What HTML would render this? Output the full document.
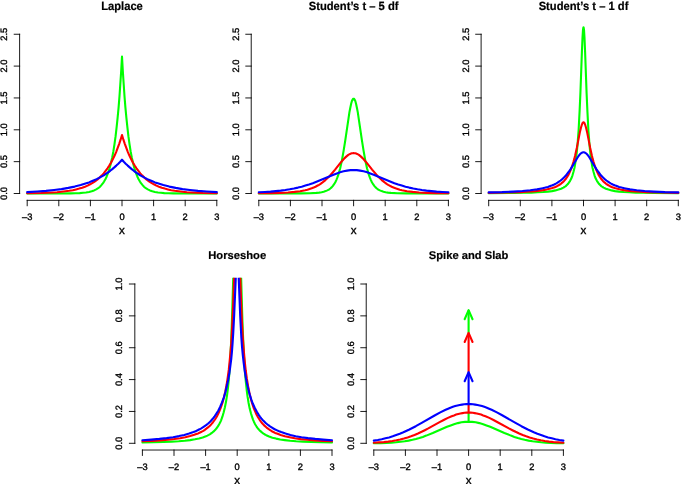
<!DOCTYPE html>
<html><head><meta charset="utf-8"><title>Shrinkage priors</title>
<style>html,body{margin:0;padding:0;background:#fff;}svg{display:block;}text{text-rendering:geometricPrecision;}</style>
</head><body>
<svg width="682" height="484" viewBox="0 0 682 484">
<rect width="682" height="484" fill="#fff"/>
<clipPath id="c1"><rect x="19.62" y="19.93" width="204.77" height="180.25"/></clipPath>
<g clip-path="url(#c1)" fill="none" stroke-width="2.1" stroke-linejoin="round" stroke-linecap="round">
<path d="M27.2,193.5 57.6,193.5 70.7,193.4 75.6,193.3 79.7,193.1 83.1,192.8 86.0,192.5 89.1,192.0 91.7,191.3 94.1,190.4 96.2,189.4 98.2,188.2 100.0,186.7 101.6,184.9 103.2,182.9 104.1,181.5 104.9,180.1 105.8,178.4 106.6,176.7 108.2,172.7 109.6,168.2 110.9,163.2 112.2,157.5 113.4,151.2 114.5,144.1 115.6,136.2 116.6,127.4 117.6,117.8 118.6,107.4 119.5,96.2 120.3,84.2 121.2,70.8 122.0,56.6 122.8,70.8 123.7,84.2 124.5,96.2 125.4,107.4 126.4,117.8 127.4,127.4 128.4,136.2 129.5,144.1 130.6,151.2 131.8,157.5 133.1,163.2 134.4,168.2 135.8,172.7 137.4,176.7 138.2,178.4 139.1,180.1 139.9,181.5 140.8,182.9 142.4,184.9 144.0,186.7 145.8,188.2 147.8,189.4 149.9,190.4 152.3,191.3 154.9,192.0 158.0,192.5 160.9,192.8 164.3,193.1 168.4,193.3 173.3,193.4 186.4,193.5 216.8,193.5" stroke="#00ff00"/>
<path d="M27.2,193.3 41.2,193.0 52.3,192.5 57.1,192.2 61.4,191.8 65.5,191.3 69.2,190.8 72.8,190.2 76.1,189.4 79.2,188.6 82.2,187.7 85.0,186.7 87.6,185.6 90.1,184.3 92.6,182.9 95.0,181.3 97.3,179.6 99.5,177.7 101.6,175.6 103.7,173.4 105.6,170.9 107.5,168.3 109.3,165.5 111.1,162.5 112.8,159.2 114.5,155.8 116.1,152.1 117.6,148.2 119.1,144.1 120.6,139.7 122.0,135.0 123.4,139.7 124.9,144.1 126.4,148.2 127.9,152.1 129.5,155.8 131.2,159.2 132.9,162.5 134.7,165.5 136.5,168.3 138.4,170.9 140.3,173.4 142.4,175.6 144.5,177.7 146.7,179.6 149.0,181.3 151.4,182.9 153.9,184.3 156.4,185.6 159.0,186.7 161.8,187.7 164.8,188.6 167.9,189.4 171.2,190.2 174.8,190.8 178.5,191.3 182.6,191.8 186.9,192.2 191.7,192.5 202.8,193.0 216.8,193.3" stroke="#ff0000"/>
<path d="M27.2,192.1 37.1,191.5 46.0,190.9 54.1,190.0 61.5,189.1 68.3,187.9 74.7,186.6 80.7,185.1 86.3,183.3 89.0,182.4 91.6,181.3 94.1,180.2 96.6,179.1 99.0,177.9 101.4,176.6 103.7,175.3 105.9,173.8 108.1,172.3 110.2,170.8 112.3,169.1 114.3,167.4 116.3,165.6 118.3,163.7 120.2,161.8 122.0,159.7 123.8,161.8 125.7,163.7 127.7,165.6 129.7,167.4 131.7,169.1 133.8,170.8 135.9,172.3 138.1,173.8 140.3,175.3 142.6,176.6 145.0,177.9 147.4,179.1 149.9,180.2 152.4,181.3 155.0,182.4 157.7,183.3 163.3,185.1 169.3,186.6 175.7,187.9 182.5,189.1 189.9,190.0 198.0,190.9 206.9,191.5 216.8,192.1" stroke="#0000ff"/>
</g>
<g fill="none" stroke="#000" stroke-width="0.9" stroke-linecap="square">
<path d="M27.20,200.33 H216.80"/>
<path d="M27.20,200.33 V205.73"/>
<path d="M58.80,200.33 V205.73"/>
<path d="M90.40,200.33 V205.73"/>
<path d="M122.00,200.33 V205.73"/>
<path d="M153.60,200.33 V205.73"/>
<path d="M185.20,200.33 V205.73"/>
<path d="M216.80,200.33 V205.73"/>
<path d="M19.62,193.50 V34.25"/>
<path d="M19.62,193.50 H14.22"/>
<path d="M19.62,161.65 H14.22"/>
<path d="M19.62,129.80 H14.22"/>
<path d="M19.62,97.95 H14.22"/>
<path d="M19.62,66.10 H14.22"/>
<path d="M19.62,34.25 H14.22"/>
</g>
<g font-family="Liberation Sans, Arial, sans-serif" fill="#000" stroke="#000" stroke-width="0.35">
<text transform="translate(27.20,220.13) scale(1,1.0)" font-size="9.3" text-anchor="middle">–3</text>
<text transform="translate(58.80,220.13) scale(1,1.0)" font-size="9.3" text-anchor="middle">–2</text>
<text transform="translate(90.40,220.13) scale(1,1.0)" font-size="9.3" text-anchor="middle">–1</text>
<text transform="translate(122.00,220.13) scale(1,1.0)" font-size="9.3" text-anchor="middle">0</text>
<text transform="translate(153.60,220.13) scale(1,1.0)" font-size="9.3" text-anchor="middle">1</text>
<text transform="translate(185.20,220.13) scale(1,1.0)" font-size="9.3" text-anchor="middle">2</text>
<text transform="translate(216.80,220.13) scale(1,1.0)" font-size="9.3" text-anchor="middle">3</text>
<text transform="translate(7.02,193.50) rotate(-90) scale(1,1.0)" font-size="9.3" text-anchor="middle">0.0</text>
<text transform="translate(7.02,161.65) rotate(-90) scale(1,1.0)" font-size="9.3" text-anchor="middle">0.5</text>
<text transform="translate(7.02,129.80) rotate(-90) scale(1,1.0)" font-size="9.3" text-anchor="middle">1.0</text>
<text transform="translate(7.02,97.95) rotate(-90) scale(1,1.0)" font-size="9.3" text-anchor="middle">1.5</text>
<text transform="translate(7.02,66.10) rotate(-90) scale(1,1.0)" font-size="9.3" text-anchor="middle">2.0</text>
<text transform="translate(7.02,34.25) rotate(-90) scale(1,1.0)" font-size="9.3" text-anchor="middle">2.5</text>
<text x="122.00" y="233.83" font-size="11.6" text-anchor="middle">x</text>
<text transform="translate(122.00,9.60) scale(1,1.06)" font-size="11.2" font-weight="bold" stroke-width="0.2" text-anchor="middle">Laplace</text>
</g>
<clipPath id="c2"><rect x="251.22" y="19.93" width="204.77" height="180.25"/></clipPath>
<g clip-path="url(#c2)" fill="none" stroke-width="2.1" stroke-linejoin="round" stroke-linecap="round">
<path d="M258.8,193.5 286.9,193.5 300.9,193.4 310.0,193.2 316.3,192.9 319.1,192.6 321.6,192.2 323.7,191.7 325.6,191.1 327.3,190.4 328.9,189.6 330.3,188.5 331.6,187.4 332.9,185.9 334.1,184.2 335.3,182.3 336.3,180.1 337.3,177.7 338.3,174.9 339.2,171.8 340.2,168.2 341.0,164.6 341.9,160.5 343.6,150.9 345.2,140.9 348.6,117.8 349.4,112.4 350.2,108.2 351.1,104.0 351.9,101.0 352.4,100.0 352.8,99.2 353.2,98.8 353.6,98.7 354.0,98.8 354.4,99.2 354.8,100.0 355.3,101.0 356.1,104.0 357.0,108.2 357.8,112.4 358.6,117.8 362.0,140.9 363.6,150.9 365.3,160.5 366.2,164.6 367.0,168.2 368.0,171.8 368.9,174.9 369.9,177.7 370.9,180.1 371.9,182.3 373.1,184.2 374.3,185.9 375.6,187.4 376.9,188.5 378.3,189.6 379.9,190.4 381.6,191.1 383.5,191.7 385.6,192.2 388.1,192.6 390.9,192.9 397.2,193.2 406.3,193.4 420.3,193.5 448.4,193.5" stroke="#00ff00"/>
<path d="M258.8,193.3 270.9,193.1 280.4,192.9 288.1,192.5 294.5,191.9 300.2,191.2 302.7,190.7 305.2,190.2 307.4,189.7 309.6,189.0 311.7,188.3 313.7,187.5 315.5,186.7 317.2,185.8 319.0,184.8 320.6,183.8 322.2,182.7 323.8,181.4 325.4,180.1 327.0,178.6 329.7,175.9 332.5,172.7 335.1,169.6 340.4,162.9 342.7,160.3 344.6,158.1 346.5,156.4 348.3,154.9 349.2,154.4 350.1,153.9 351.0,153.6 351.9,153.3 352.7,153.2 353.6,153.1 354.5,153.2 355.3,153.3 356.2,153.6 357.1,153.9 358.0,154.4 358.9,154.9 360.7,156.4 362.6,158.1 364.5,160.3 366.8,162.9 372.1,169.6 374.7,172.7 377.5,175.9 380.2,178.6 381.8,180.1 383.4,181.4 385.0,182.7 386.6,183.8 388.2,184.8 390.0,185.8 391.7,186.7 393.5,187.5 395.5,188.3 397.6,189.0 399.8,189.7 402.0,190.2 404.5,190.7 407.0,191.2 412.7,191.9 419.1,192.5 426.8,192.9 436.3,193.1 448.4,193.3" stroke="#ff0000"/>
<path d="M258.8,192.3 264.9,192.0 270.6,191.6 275.8,191.1 280.7,190.6 285.3,190.0 289.7,189.3 293.9,188.5 298.0,187.6 301.7,186.7 305.4,185.6 309.0,184.5 312.8,183.2 319.5,180.5 333.5,174.7 336.9,173.4 340.0,172.3 343.6,171.3 347.1,170.6 350.4,170.1 353.6,170.0 356.8,170.1 360.1,170.6 363.6,171.3 367.2,172.3 370.3,173.4 373.7,174.7 387.7,180.5 394.4,183.2 398.2,184.5 401.8,185.6 405.5,186.7 409.2,187.6 413.3,188.5 417.5,189.3 421.9,190.0 426.5,190.6 431.4,191.1 436.6,191.6 442.3,192.0 448.4,192.3" stroke="#0000ff"/>
</g>
<g fill="none" stroke="#000" stroke-width="0.9" stroke-linecap="square">
<path d="M258.80,200.33 H448.40"/>
<path d="M258.80,200.33 V205.73"/>
<path d="M290.40,200.33 V205.73"/>
<path d="M322.00,200.33 V205.73"/>
<path d="M353.60,200.33 V205.73"/>
<path d="M385.20,200.33 V205.73"/>
<path d="M416.80,200.33 V205.73"/>
<path d="M448.40,200.33 V205.73"/>
<path d="M251.22,193.50 V34.25"/>
<path d="M251.22,193.50 H245.82"/>
<path d="M251.22,161.65 H245.82"/>
<path d="M251.22,129.80 H245.82"/>
<path d="M251.22,97.95 H245.82"/>
<path d="M251.22,66.10 H245.82"/>
<path d="M251.22,34.25 H245.82"/>
</g>
<g font-family="Liberation Sans, Arial, sans-serif" fill="#000" stroke="#000" stroke-width="0.35">
<text transform="translate(258.80,220.13) scale(1,1.0)" font-size="9.3" text-anchor="middle">–3</text>
<text transform="translate(290.40,220.13) scale(1,1.0)" font-size="9.3" text-anchor="middle">–2</text>
<text transform="translate(322.00,220.13) scale(1,1.0)" font-size="9.3" text-anchor="middle">–1</text>
<text transform="translate(353.60,220.13) scale(1,1.0)" font-size="9.3" text-anchor="middle">0</text>
<text transform="translate(385.20,220.13) scale(1,1.0)" font-size="9.3" text-anchor="middle">1</text>
<text transform="translate(416.80,220.13) scale(1,1.0)" font-size="9.3" text-anchor="middle">2</text>
<text transform="translate(448.40,220.13) scale(1,1.0)" font-size="9.3" text-anchor="middle">3</text>
<text transform="translate(238.62,193.50) rotate(-90) scale(1,1.0)" font-size="9.3" text-anchor="middle">0.0</text>
<text transform="translate(238.62,161.65) rotate(-90) scale(1,1.0)" font-size="9.3" text-anchor="middle">0.5</text>
<text transform="translate(238.62,129.80) rotate(-90) scale(1,1.0)" font-size="9.3" text-anchor="middle">1.0</text>
<text transform="translate(238.62,97.95) rotate(-90) scale(1,1.0)" font-size="9.3" text-anchor="middle">1.5</text>
<text transform="translate(238.62,66.10) rotate(-90) scale(1,1.0)" font-size="9.3" text-anchor="middle">2.0</text>
<text transform="translate(238.62,34.25) rotate(-90) scale(1,1.0)" font-size="9.3" text-anchor="middle">2.5</text>
<text x="353.60" y="233.83" font-size="11.6" text-anchor="middle">x</text>
<text transform="translate(353.60,9.60) scale(1,1.06)" font-size="11.2" font-weight="bold" stroke-width="0.2" text-anchor="middle">Student&#8217;s t – 5 df</text>
</g>
<clipPath id="c3"><rect x="481.12" y="19.93" width="204.77" height="180.25"/></clipPath>
<g clip-path="url(#c3)" fill="none" stroke-width="2.1" stroke-linejoin="round" stroke-linecap="round">
<path d="M488.7,193.2 514.1,193.0 523.5,192.8 531.3,192.6 537.8,192.3 543.3,192.0 548.0,191.6 551.9,191.1 555.4,190.4 558.5,189.6 561.1,188.7 563.4,187.6 564.4,187.0 565.4,186.3 566.3,185.6 567.1,184.7 568.0,183.9 568.7,182.9 570.1,180.8 571.4,178.3 572.5,175.3 573.5,171.8 574.5,167.8 575.3,163.1 576.1,158.0 576.8,152.0 577.5,145.2 578.0,138.1 578.6,130.4 579.6,111.1 580.4,93.3 581.9,52.0 582.5,37.7 583.0,29.8 583.3,27.9 583.4,27.4 583.5,27.3 583.6,27.4 583.7,27.9 584.0,29.8 584.5,37.7 585.1,52.0 586.6,93.3 587.4,111.1 588.4,130.4 589.0,138.1 589.5,145.2 590.2,152.0 590.9,158.0 591.7,163.1 592.5,167.8 593.5,171.8 594.5,175.3 595.6,178.3 596.9,180.8 598.3,182.9 599.0,183.9 599.9,184.7 600.7,185.6 601.6,186.3 602.6,187.0 603.6,187.6 605.9,188.7 608.5,189.6 611.6,190.4 615.1,191.1 619.0,191.6 623.7,192.0 629.2,192.3 635.7,192.6 643.5,192.8 652.9,193.0 678.3,193.2" stroke="#00ff00"/>
<path d="M488.7,192.9 506.6,192.5 520.4,192.1 526.1,191.8 531.1,191.5 535.6,191.1 539.7,190.6 543.3,190.1 546.6,189.5 549.6,188.8 552.3,188.0 554.7,187.2 557.0,186.2 559.0,185.0 560.9,183.8 562.5,182.4 564.1,180.9 565.5,179.3 566.8,177.4 568.1,175.4 569.3,173.1 570.4,170.6 571.5,168.0 572.4,165.2 573.4,162.1 574.3,158.9 575.2,155.2 576.8,147.9 579.8,132.6 581.0,127.5 581.7,125.2 582.3,123.6 582.6,123.0 582.9,122.6 583.2,122.4 583.5,122.4 583.8,122.4 584.1,122.6 584.4,123.0 584.7,123.6 585.3,125.2 586.0,127.5 587.2,132.6 590.2,147.9 591.8,155.2 592.7,158.9 593.6,162.1 594.6,165.2 595.5,168.0 596.6,170.6 597.7,173.1 598.9,175.4 600.2,177.4 601.5,179.3 602.9,180.9 604.5,182.4 606.1,183.8 608.0,185.0 610.0,186.2 612.3,187.2 614.7,188.0 617.4,188.8 620.4,189.5 623.7,190.1 627.3,190.6 631.4,191.1 635.9,191.5 640.9,191.8 646.6,192.1 660.4,192.5 678.3,192.9" stroke="#ff0000"/>
<path d="M488.7,192.4 502.0,192.1 513.1,191.6 522.4,191.0 530.3,190.3 533.8,189.8 537.0,189.4 540.0,188.8 542.8,188.2 545.4,187.6 547.9,186.9 550.2,186.1 552.4,185.3 554.2,184.5 555.9,183.6 557.5,182.7 559.0,181.6 560.6,180.5 562.0,179.4 563.4,178.1 564.7,176.7 566.1,175.3 567.3,173.7 568.6,172.0 569.9,170.2 572.3,166.4 577.0,158.5 578.0,156.8 579.0,155.4 580.2,154.0 581.4,153.0 581.9,152.7 582.5,152.5 583.0,152.3 583.5,152.3 584.0,152.3 584.5,152.5 585.1,152.7 585.6,153.0 586.8,154.0 588.0,155.4 589.0,156.8 590.0,158.5 594.7,166.4 597.1,170.2 598.4,172.0 599.7,173.7 600.9,175.3 602.3,176.7 603.6,178.1 605.0,179.4 606.4,180.5 608.0,181.6 609.5,182.7 611.1,183.6 612.8,184.5 614.6,185.3 616.8,186.1 619.1,186.9 621.6,187.6 624.2,188.2 627.0,188.8 630.0,189.4 633.2,189.8 636.7,190.3 644.6,191.0 653.9,191.6 665.0,192.1 678.3,192.4" stroke="#0000ff"/>
</g>
<g fill="none" stroke="#000" stroke-width="0.9" stroke-linecap="square">
<path d="M488.70,200.33 H678.30"/>
<path d="M488.70,200.33 V205.73"/>
<path d="M520.30,200.33 V205.73"/>
<path d="M551.90,200.33 V205.73"/>
<path d="M583.50,200.33 V205.73"/>
<path d="M615.10,200.33 V205.73"/>
<path d="M646.70,200.33 V205.73"/>
<path d="M678.30,200.33 V205.73"/>
<path d="M481.12,193.50 V34.25"/>
<path d="M481.12,193.50 H475.72"/>
<path d="M481.12,161.65 H475.72"/>
<path d="M481.12,129.80 H475.72"/>
<path d="M481.12,97.95 H475.72"/>
<path d="M481.12,66.10 H475.72"/>
<path d="M481.12,34.25 H475.72"/>
</g>
<g font-family="Liberation Sans, Arial, sans-serif" fill="#000" stroke="#000" stroke-width="0.35">
<text transform="translate(488.70,220.13) scale(1,1.0)" font-size="9.3" text-anchor="middle">–3</text>
<text transform="translate(520.30,220.13) scale(1,1.0)" font-size="9.3" text-anchor="middle">–2</text>
<text transform="translate(551.90,220.13) scale(1,1.0)" font-size="9.3" text-anchor="middle">–1</text>
<text transform="translate(583.50,220.13) scale(1,1.0)" font-size="9.3" text-anchor="middle">0</text>
<text transform="translate(615.10,220.13) scale(1,1.0)" font-size="9.3" text-anchor="middle">1</text>
<text transform="translate(646.70,220.13) scale(1,1.0)" font-size="9.3" text-anchor="middle">2</text>
<text transform="translate(678.30,220.13) scale(1,1.0)" font-size="9.3" text-anchor="middle">3</text>
<text transform="translate(468.52,193.50) rotate(-90) scale(1,1.0)" font-size="9.3" text-anchor="middle">0.0</text>
<text transform="translate(468.52,161.65) rotate(-90) scale(1,1.0)" font-size="9.3" text-anchor="middle">0.5</text>
<text transform="translate(468.52,129.80) rotate(-90) scale(1,1.0)" font-size="9.3" text-anchor="middle">1.0</text>
<text transform="translate(468.52,97.95) rotate(-90) scale(1,1.0)" font-size="9.3" text-anchor="middle">1.5</text>
<text transform="translate(468.52,66.10) rotate(-90) scale(1,1.0)" font-size="9.3" text-anchor="middle">2.0</text>
<text transform="translate(468.52,34.25) rotate(-90) scale(1,1.0)" font-size="9.3" text-anchor="middle">2.5</text>
<text x="583.50" y="233.83" font-size="11.6" text-anchor="middle">x</text>
<text transform="translate(583.50,9.60) scale(1,1.06)" font-size="11.2" font-weight="bold" stroke-width="0.2" text-anchor="middle">Student&#8217;s t – 1 df</text>
</g>
<clipPath id="c4"><rect x="134.82" y="277.63" width="204.77" height="172.04"/></clipPath>
<g clip-path="url(#c4)" fill="none" stroke-width="2.1" stroke-linejoin="round" stroke-linecap="round">
<path d="M142.4,442.5 153.8,442.3 163.4,442.0 171.7,441.6 178.7,441.2 184.9,440.7 190.2,440.1 194.9,439.3 199.0,438.5 202.7,437.5 205.9,436.3 207.4,435.6 208.8,434.9 210.2,434.1 211.4,433.2 212.6,432.3 213.7,431.4 214.8,430.3 215.8,429.2 216.8,428.0 217.7,426.7 218.5,425.4 219.3,424.0 220.2,422.3 221.0,420.6 222.4,416.7 223.7,412.3 224.9,407.3 226.0,401.8 227.0,395.6 227.9,388.6 228.7,380.9 229.4,372.7 230.0,363.1 230.6,352.5 231.2,340.6 232.2,312.7 233.4,272.6 241.0,272.6 242.2,313.7 242.7,328.9 243.3,342.0 243.8,353.8 244.5,364.6 245.1,373.9 245.9,382.3 246.7,390.0 247.6,396.9 248.6,403.0 249.7,408.6 251.0,413.5 252.4,417.8 253.1,419.8 253.9,421.7 254.7,423.4 255.6,425.0 256.4,426.3 257.3,427.6 258.2,428.8 259.2,429.9 260.2,430.9 261.3,431.9 262.4,432.8 263.6,433.7 264.9,434.5 266.2,435.2 269.1,436.5 272.4,437.7 276.1,438.6 280.2,439.5 284.8,440.1 290.1,440.7 296.2,441.2 303.2,441.6 311.4,442.0 320.8,442.3 332.0,442.5" stroke="#00ff00"/>
<path d="M142.4,441.3 151.9,440.9 160.3,440.4 167.7,439.7 174.3,439.0 180.1,438.2 185.3,437.2 190.1,436.1 194.3,434.8 196.3,434.1 198.2,433.4 200.0,432.5 201.7,431.7 203.3,430.8 204.8,429.8 206.3,428.7 207.7,427.6 209.1,426.5 210.4,425.2 211.6,423.9 212.8,422.5 213.9,421.0 215.0,419.5 216.1,417.8 217.1,416.0 218.1,414.1 219.0,412.1 219.9,409.9 220.8,407.6 222.5,402.7 224.0,397.3 225.3,391.4 226.6,384.8 227.7,377.6 228.8,369.7 229.6,361.6 230.4,353.0 231.2,343.4 231.8,332.7 232.4,321.2 233.0,308.3 234.3,272.6 240.1,272.6 241.4,309.1 242.0,322.5 242.6,333.8 243.3,344.3 244.1,354.1 244.9,362.9 245.8,371.0 246.9,378.9 248.1,386.2 249.4,392.7 250.8,398.7 252.3,404.0 254.0,408.9 255.0,411.1 255.9,413.2 256.9,415.3 258.0,417.2 259.0,418.8 260.0,420.4 261.1,421.9 262.2,423.3 263.4,424.6 264.7,425.9 266.0,427.0 267.3,428.2 268.7,429.2 270.2,430.2 271.8,431.2 273.4,432.0 275.1,432.9 276.9,433.6 280.7,435.0 284.9,436.3 289.6,437.3 294.8,438.3 300.6,439.1 307.1,439.8 314.4,440.4 322.6,440.9 332.0,441.3" stroke="#ff0000"/>
<path d="M142.4,440.2 151.4,439.6 159.4,438.9 166.6,438.1 173.1,437.2 179.0,436.1 184.3,434.9 189.1,433.5 193.5,432.0 195.6,431.2 197.6,430.3 199.5,429.3 201.3,428.3 203.1,427.2 204.7,426.1 206.4,424.9 207.9,423.7 209.3,422.4 210.8,421.0 212.1,419.5 213.4,418.0 214.6,416.4 215.8,414.6 216.9,412.9 218.1,411.0 219.1,409.0 220.1,406.9 222.0,402.4 223.8,397.6 225.4,392.2 226.8,386.3 228.2,380.0 229.4,373.0 230.4,365.7 231.3,358.5 232.0,351.1 232.6,342.9 233.2,333.8 234.2,314.6 236.0,272.6 238.4,272.6 238.5,272.8 240.2,316.0 240.8,327.1 241.3,336.9 242.0,346.6 242.8,355.1 243.7,363.2 244.7,370.9 245.8,377.5 247.0,383.6 248.3,389.3 249.7,394.5 251.2,399.3 252.9,403.8 254.7,407.8 256.7,411.5 257.8,413.4 258.9,415.1 260.1,416.8 261.3,418.4 262.6,419.9 264.0,421.3 265.4,422.7 266.9,424.0 268.4,425.2 270.0,426.4 271.6,427.4 273.4,428.5 275.2,429.5 277.1,430.4 279.1,431.3 281.2,432.1 285.5,433.6 290.4,435.0 295.7,436.2 301.5,437.2 308.0,438.1 315.2,438.9 323.1,439.6 332.0,440.2" stroke="#0000ff"/>
</g>
<g fill="none" stroke="#000" stroke-width="0.9" stroke-linecap="square">
<path d="M142.40,450.02 H332.00"/>
<path d="M142.40,450.02 V455.42"/>
<path d="M174.00,450.02 V455.42"/>
<path d="M205.60,450.02 V455.42"/>
<path d="M237.20,450.02 V455.42"/>
<path d="M268.80,450.02 V455.42"/>
<path d="M300.40,450.02 V455.42"/>
<path d="M332.00,450.02 V455.42"/>
<path d="M134.82,443.30 V284.00"/>
<path d="M134.82,443.30 H129.42"/>
<path d="M134.82,411.44 H129.42"/>
<path d="M134.82,379.58 H129.42"/>
<path d="M134.82,347.72 H129.42"/>
<path d="M134.82,315.86 H129.42"/>
<path d="M134.82,284.00 H129.42"/>
</g>
<g font-family="Liberation Sans, Arial, sans-serif" fill="#000" stroke="#000" stroke-width="0.35">
<text transform="translate(142.40,470.22) scale(1,1.0)" font-size="9.3" text-anchor="middle">–3</text>
<text transform="translate(174.00,470.22) scale(1,1.0)" font-size="9.3" text-anchor="middle">–2</text>
<text transform="translate(205.60,470.22) scale(1,1.0)" font-size="9.3" text-anchor="middle">–1</text>
<text transform="translate(237.20,470.22) scale(1,1.0)" font-size="9.3" text-anchor="middle">0</text>
<text transform="translate(268.80,470.22) scale(1,1.0)" font-size="9.3" text-anchor="middle">1</text>
<text transform="translate(300.40,470.22) scale(1,1.0)" font-size="9.3" text-anchor="middle">2</text>
<text transform="translate(332.00,470.22) scale(1,1.0)" font-size="9.3" text-anchor="middle">3</text>
<text transform="translate(122.22,443.30) rotate(-90) scale(1,1.0)" font-size="9.3" text-anchor="middle">0.0</text>
<text transform="translate(122.22,411.44) rotate(-90) scale(1,1.0)" font-size="9.3" text-anchor="middle">0.2</text>
<text transform="translate(122.22,379.58) rotate(-90) scale(1,1.0)" font-size="9.3" text-anchor="middle">0.4</text>
<text transform="translate(122.22,347.72) rotate(-90) scale(1,1.0)" font-size="9.3" text-anchor="middle">0.6</text>
<text transform="translate(122.22,315.86) rotate(-90) scale(1,1.0)" font-size="9.3" text-anchor="middle">0.8</text>
<text transform="translate(122.22,284.00) rotate(-90) scale(1,1.0)" font-size="9.3" text-anchor="middle">1.0</text>
<text x="237.20" y="483.52" font-size="11.6" text-anchor="middle">x</text>
<text transform="translate(237.20,259.40) scale(1,1.0)" font-size="11.2" font-weight="bold" stroke-width="0.2" text-anchor="middle">Horseshoe</text>
</g>
<clipPath id="c5"><rect x="366.22" y="277.63" width="204.77" height="172.04"/></clipPath>
<g clip-path="url(#c5)" fill="none" stroke-width="2.1" stroke-linejoin="round" stroke-linecap="round">
<path d="M373.8,443.2 380.6,443.1 386.4,442.9 391.5,442.6 396.2,442.3 400.6,441.8 404.7,441.3 408.6,440.6 412.5,439.8 415.9,439.0 419.4,438.0 422.8,436.9 426.3,435.6 432.8,433.0 447.0,426.8 450.7,425.4 454.0,424.2 457.9,423.1 461.5,422.3 465.1,421.9 468.6,421.7 472.1,421.9 475.7,422.3 479.3,423.1 483.2,424.2 486.5,425.4 490.2,426.8 504.4,433.0 510.9,435.6 514.4,436.9 517.8,438.0 521.3,439.0 524.7,439.8 528.6,440.6 532.5,441.3 536.6,441.8 541.0,442.3 545.7,442.6 550.8,442.9 556.6,443.1 563.4,443.2" stroke="#00ff00"/>
<path d="M468.60,332.91 L468.60,310.20 M468.60,421.71 L468.60,412.56 " stroke="#00ff00" stroke-linecap="butt"/>
<path d="M464.65,319.28 L468.60,310.20 L472.55,319.28" stroke="#00ff00"/>
<path d="M373.8,442.7 379.0,442.4 383.8,442.1 388.2,441.6 392.4,441.0 396.4,440.3 400.2,439.5 403.9,438.5 407.6,437.4 411.0,436.3 414.5,435.0 418.0,433.5 421.6,431.8 424.8,430.2 428.3,428.4 439.6,422.2 443.7,420.0 447.9,417.9 451.7,416.2 454.0,415.4 456.1,414.6 458.3,414.0 460.4,413.5 462.5,413.1 464.5,412.8 466.6,412.6 468.6,412.6 470.6,412.6 472.7,412.8 474.7,413.1 476.8,413.5 478.9,414.0 481.1,414.6 483.2,415.4 485.5,416.2 489.3,417.9 493.5,420.0 497.6,422.2 508.9,428.4 512.4,430.2 515.6,431.8 519.2,433.5 522.7,435.0 526.2,436.3 529.6,437.4 533.3,438.5 537.0,439.5 540.8,440.3 544.8,441.0 549.0,441.6 553.4,442.1 558.2,442.4 563.4,442.7" stroke="#ff0000"/>
<path d="M468.60,372.18 L468.60,332.91 M468.60,412.56 L468.60,404.04 " stroke="#ff0000" stroke-linecap="butt"/>
<path d="M464.65,341.98 L468.60,332.91 L472.55,341.98" stroke="#ff0000"/>
<path d="M373.8,440.6 377.8,440.0 381.7,439.2 385.4,438.3 389.1,437.4 392.7,436.3 396.2,435.1 399.8,433.8 403.4,432.3 409.4,429.5 415.8,426.2 421.7,422.9 434.6,415.5 440.3,412.4 445.6,409.8 448.1,408.7 450.4,407.7 452.9,406.8 455.2,406.1 457.5,405.5 459.7,405.0 462.0,404.6 464.2,404.3 466.4,404.1 468.6,404.0 470.8,404.1 473.0,404.3 475.2,404.6 477.5,405.0 479.7,405.5 482.0,406.1 484.3,406.8 486.8,407.7 489.1,408.7 491.6,409.8 496.9,412.4 502.6,415.5 515.5,422.9 521.4,426.2 527.8,429.5 533.8,432.3 537.4,433.8 541.0,435.1 544.5,436.3 548.1,437.4 551.8,438.3 555.5,439.2 559.4,440.0 563.4,440.6" stroke="#0000ff"/>
<path d="M468.60,404.04 L468.60,372.18 " stroke="#0000ff" stroke-linecap="butt"/>
<path d="M464.65,381.26 L468.60,372.18 L472.55,381.26" stroke="#0000ff"/>
</g>
<g fill="none" stroke="#000" stroke-width="0.9" stroke-linecap="square">
<path d="M373.80,450.02 H563.40"/>
<path d="M373.80,450.02 V455.42"/>
<path d="M405.40,450.02 V455.42"/>
<path d="M437.00,450.02 V455.42"/>
<path d="M468.60,450.02 V455.42"/>
<path d="M500.20,450.02 V455.42"/>
<path d="M531.80,450.02 V455.42"/>
<path d="M563.40,450.02 V455.42"/>
<path d="M366.22,443.30 V284.00"/>
<path d="M366.22,443.30 H360.82"/>
<path d="M366.22,411.44 H360.82"/>
<path d="M366.22,379.58 H360.82"/>
<path d="M366.22,347.72 H360.82"/>
<path d="M366.22,315.86 H360.82"/>
<path d="M366.22,284.00 H360.82"/>
</g>
<g font-family="Liberation Sans, Arial, sans-serif" fill="#000" stroke="#000" stroke-width="0.35">
<text transform="translate(373.80,470.22) scale(1,1.0)" font-size="9.3" text-anchor="middle">–3</text>
<text transform="translate(405.40,470.22) scale(1,1.0)" font-size="9.3" text-anchor="middle">–2</text>
<text transform="translate(437.00,470.22) scale(1,1.0)" font-size="9.3" text-anchor="middle">–1</text>
<text transform="translate(468.60,470.22) scale(1,1.0)" font-size="9.3" text-anchor="middle">0</text>
<text transform="translate(500.20,470.22) scale(1,1.0)" font-size="9.3" text-anchor="middle">1</text>
<text transform="translate(531.80,470.22) scale(1,1.0)" font-size="9.3" text-anchor="middle">2</text>
<text transform="translate(563.40,470.22) scale(1,1.0)" font-size="9.3" text-anchor="middle">3</text>
<text transform="translate(353.62,443.30) rotate(-90) scale(1,1.0)" font-size="9.3" text-anchor="middle">0.0</text>
<text transform="translate(353.62,411.44) rotate(-90) scale(1,1.0)" font-size="9.3" text-anchor="middle">0.2</text>
<text transform="translate(353.62,379.58) rotate(-90) scale(1,1.0)" font-size="9.3" text-anchor="middle">0.4</text>
<text transform="translate(353.62,347.72) rotate(-90) scale(1,1.0)" font-size="9.3" text-anchor="middle">0.6</text>
<text transform="translate(353.62,315.86) rotate(-90) scale(1,1.0)" font-size="9.3" text-anchor="middle">0.8</text>
<text transform="translate(353.62,284.00) rotate(-90) scale(1,1.0)" font-size="9.3" text-anchor="middle">1.0</text>
<text x="468.60" y="483.52" font-size="11.6" text-anchor="middle">x</text>
<text transform="translate(468.60,259.40) scale(1,1.0)" font-size="11.2" font-weight="bold" stroke-width="0.2" text-anchor="middle">Spike and Slab</text>
</g>
</svg>
</body></html>
